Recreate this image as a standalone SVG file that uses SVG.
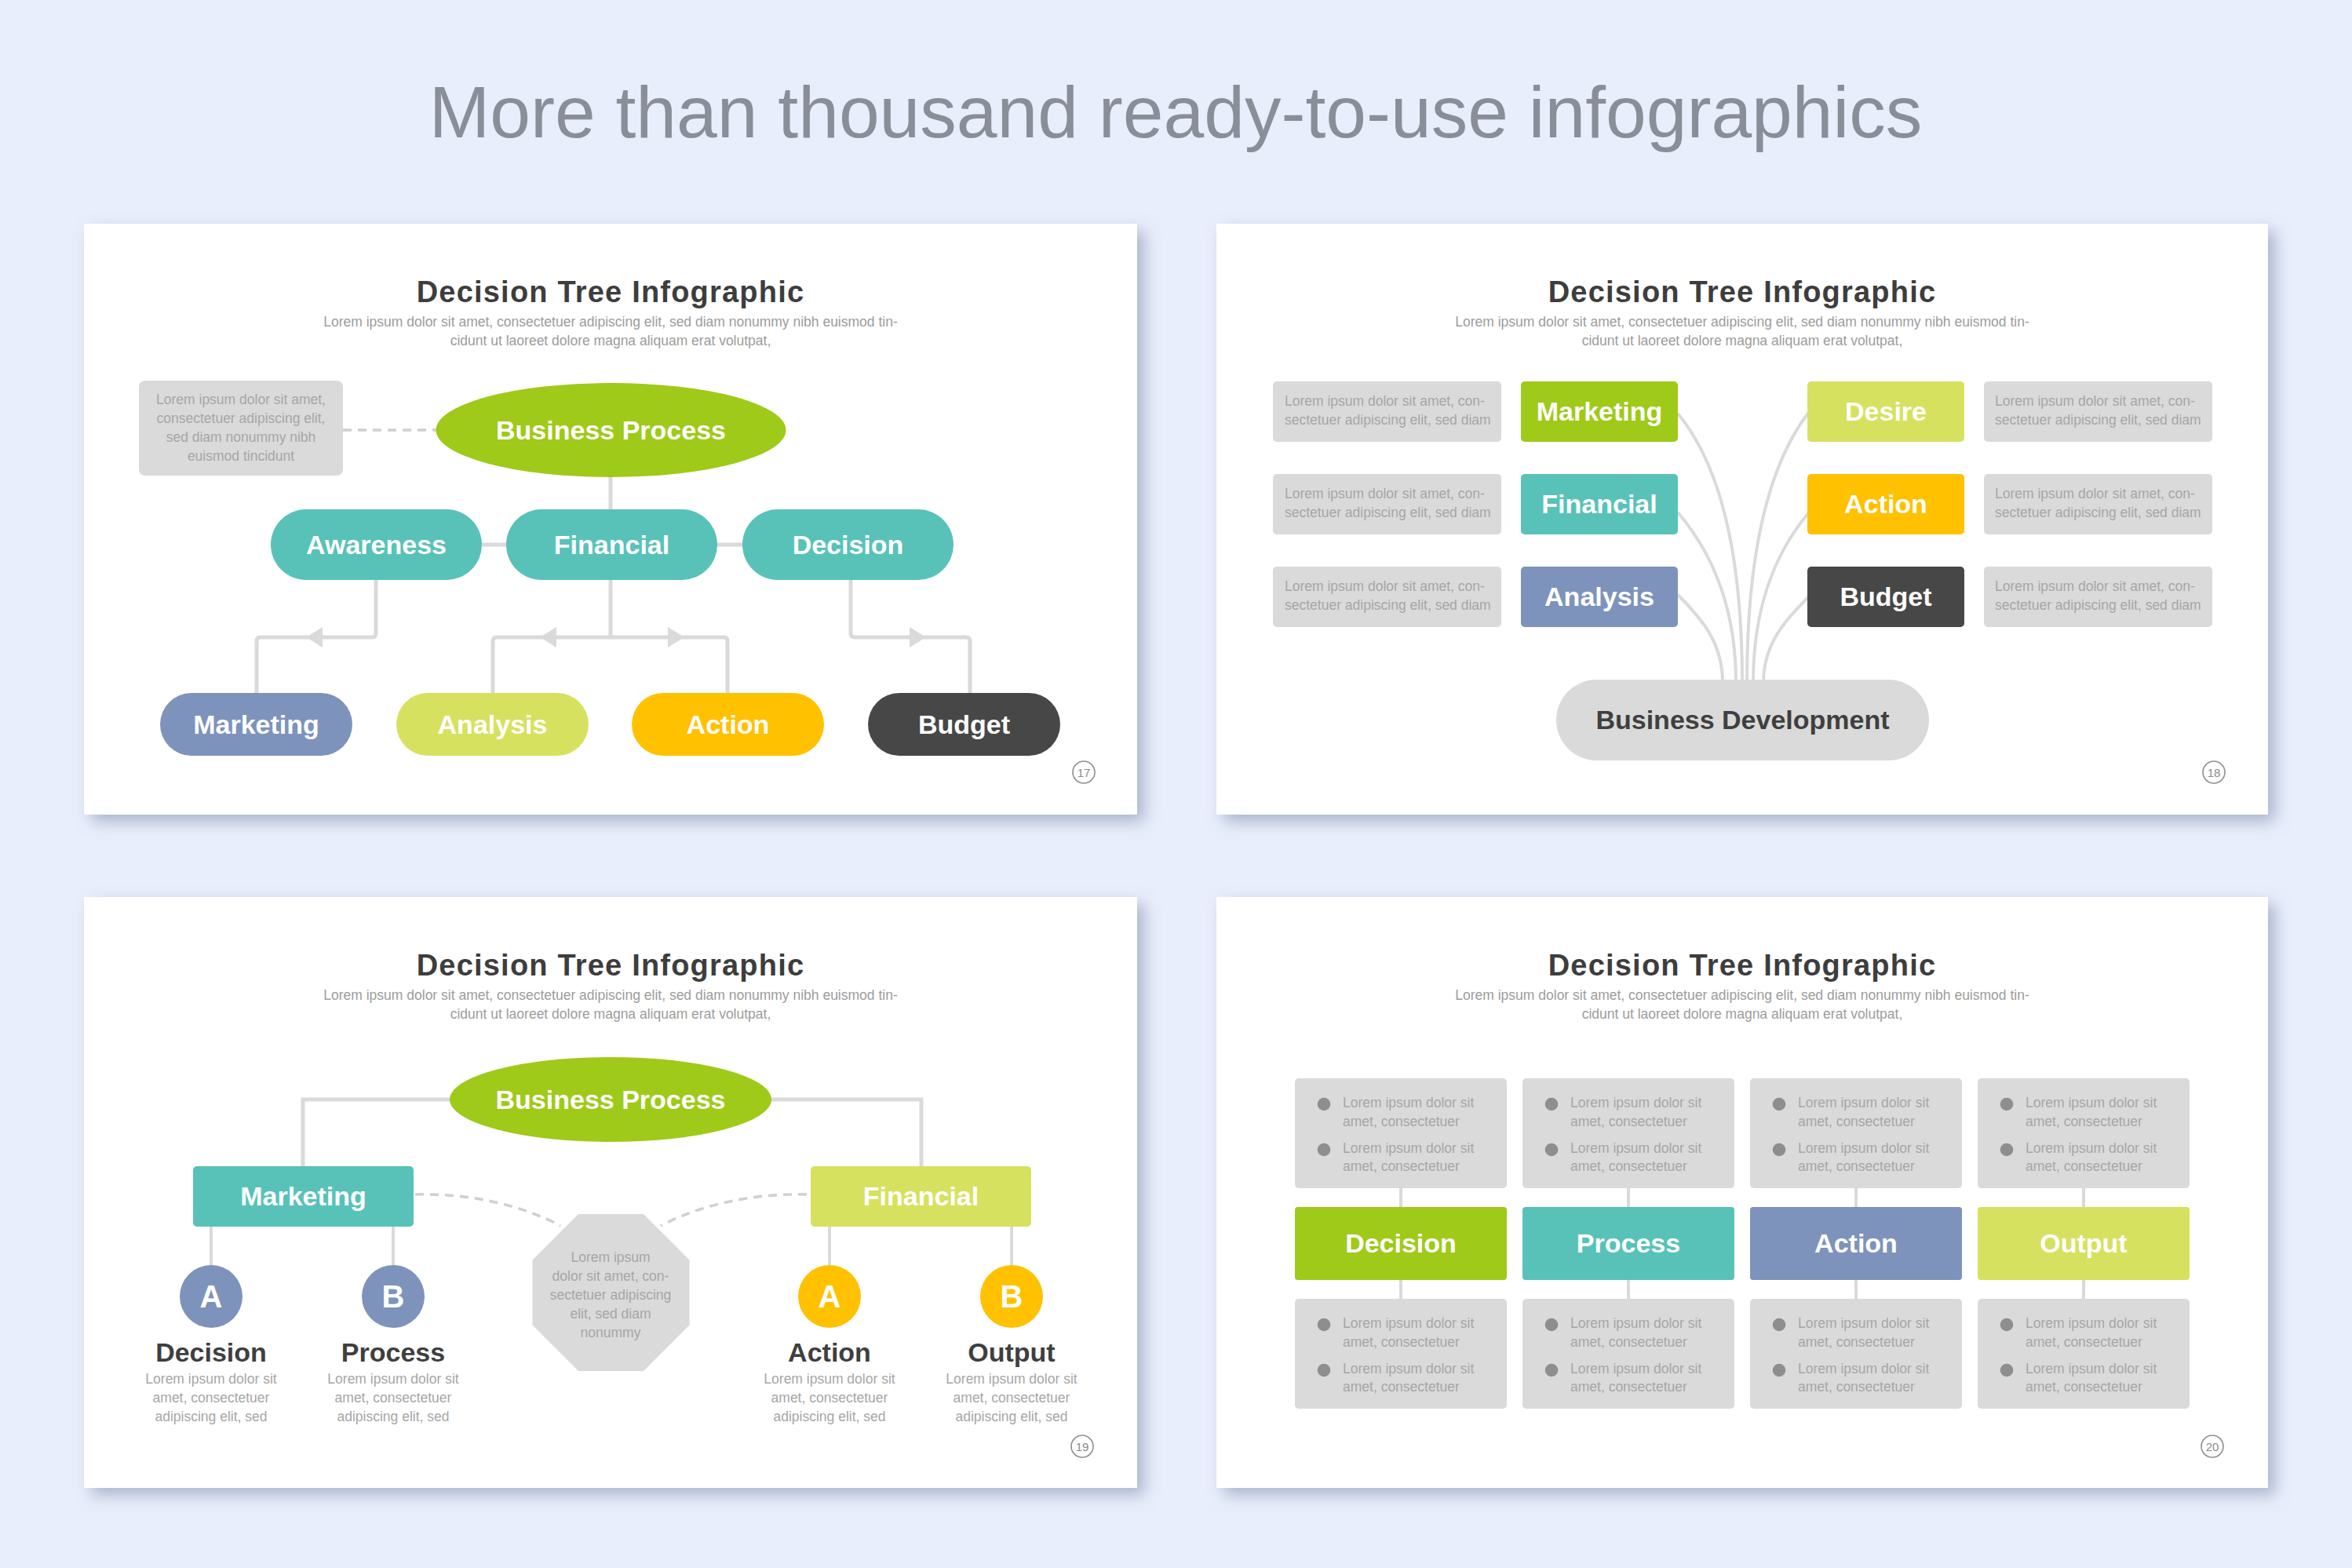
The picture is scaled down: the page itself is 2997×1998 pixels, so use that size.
<svg xmlns="http://www.w3.org/2000/svg" width="2997" height="1998" viewBox="0 0 2997 1998">
<defs>
<filter id="sh" x="-5%" y="-5%" width="115%" height="115%">
<feDropShadow dx="9" dy="9" stdDeviation="10" flood-color="#7a86a6" flood-opacity="0.55"/>
</filter>
<style>
text{font-family:"Liberation Sans",Arial,sans-serif}
.head{font-size:93px;fill:#8a8e99;text-anchor:middle}
.ttl{font-size:38px;font-weight:bold;fill:#3d3d3d;text-anchor:middle;letter-spacing:1.2px}
.sub{font-size:17.5px;fill:#9c9c9c;text-anchor:middle}
.sm{font-size:17.5px;fill:#a6a6a6}
.smc{font-size:17.5px;fill:#a6a6a6;text-anchor:middle}
.lbl{font-size:34px;font-weight:bold;fill:#ffffff;text-anchor:middle}
.dk{font-size:34px;font-weight:bold;fill:#3f3f3f;text-anchor:middle}
.let{font-size:40px;font-weight:bold;fill:#ffffff;text-anchor:middle}
.pg{font-size:15px;fill:#8a8a8a;text-anchor:middle}
.pgc{fill:none;stroke:#8f8f8f;stroke-width:1.6}
.panel{fill:#ffffff;filter:url(#sh)}
.grey{fill:#dadada}
.conn{fill:none;stroke:#dadada;stroke-width:5}
.thin{fill:none;stroke:#dadada;stroke-width:4}
.dash{fill:none;stroke:#d0d0d0;stroke-width:3.5;stroke-dasharray:11 8}
.arr{fill:#dadada}
.dot{fill:#8e8e8e}
.green{fill:#9fca1a}.teal{fill:#59c2b8}.slate{fill:#7e93bb}.lime{fill:#d7e160}.amber{fill:#ffc100}.dark{fill:#474747}
</style>
</defs>
<rect width="2997" height="1998" fill="#e8eefc"/>
<text class="head" x="1498" y="175">More than thousand ready-to-use infographics</text>

<!-- Panels -->
<g id="panels">
<rect class="panel" x="107" y="285" width="1342" height="753"/>
<rect class="panel" x="1550" y="285" width="1340" height="753"/>
<rect class="panel" x="107" y="1143" width="1342" height="753"/>
<rect class="panel" x="1550" y="1143" width="1340" height="753"/>
</g>

<!-- Titles -->
<g id="titles">
<text class="ttl" x="778" y="385">Decision Tree Infographic</text>
<text class="sub" x="778" y="416">Lorem ipsum dolor sit amet, consectetuer adipiscing elit, sed diam nonummy nibh euismod tin-</text>
<text class="sub" x="778" y="440">cidunt ut laoreet dolore magna aliquam erat volutpat,</text>
<text class="ttl" x="2220" y="385">Decision Tree Infographic</text>
<text class="sub" x="2220" y="416">Lorem ipsum dolor sit amet, consectetuer adipiscing elit, sed diam nonummy nibh euismod tin-</text>
<text class="sub" x="2220" y="440">cidunt ut laoreet dolore magna aliquam erat volutpat,</text>
<text class="ttl" x="778" y="1243">Decision Tree Infographic</text>
<text class="sub" x="778" y="1274">Lorem ipsum dolor sit amet, consectetuer adipiscing elit, sed diam nonummy nibh euismod tin-</text>
<text class="sub" x="778" y="1298">cidunt ut laoreet dolore magna aliquam erat volutpat,</text>
<text class="ttl" x="2220" y="1243">Decision Tree Infographic</text>
<text class="sub" x="2220" y="1274">Lorem ipsum dolor sit amet, consectetuer adipiscing elit, sed diam nonummy nibh euismod tin-</text>
<text class="sub" x="2220" y="1298">cidunt ut laoreet dolore magna aliquam erat volutpat,</text>
</g>

<!-- Connectors -->
<g id="connectors">
<!-- panel 1 -->
<line class="dash" x1="437" y1="548" x2="556" y2="548"/>
<line class="conn" x1="778" y1="607" x2="778" y2="650"/>
<line class="conn" x1="612" y1="694" x2="647" y2="694" stroke-width="7"/>
<line class="conn" x1="912" y1="694" x2="948" y2="694" stroke-width="7"/>
<path class="conn" d="M479,739 V807 Q479,812 474,812 H332 Q327,812 327,817 V884"/>
<polygon class="arr" points="390,812 411,799 411,825"/>
<path class="conn" d="M778,739 V812"/>
<path class="conn" d="M628,884 V817 Q628,812 633,812 H922 Q927,812 927,817 V884"/>
<polygon class="arr" points="688,812 709,799 709,825"/>
<polygon class="arr" points="872,812 851,799 851,825"/>
<path class="conn" d="M1084,739 V807 Q1084,812 1089,812 H1231 Q1236,812 1236,817 V884"/>
<polygon class="arr" points="1180,812 1159,799 1159,825"/>
<!-- panel 2 -->
<path class="thin" d="M2138,527 C2190,590 2220,700 2220,870"/>
<path class="thin" d="M2138,653 C2178,700 2212,770 2212,870"/>
<path class="thin" d="M2138,758 C2170,790 2195,820 2195,870"/>
<path class="thin" d="M2305,525 C2255,590 2226,700 2226,870"/>
<path class="thin" d="M2305,653 C2265,700 2234,770 2234,870"/>
<path class="thin" d="M2305,760 C2275,790 2247,820 2247,870"/>
<!-- panel 3 -->
<path class="conn" d="M575,1401 H386 V1487"/>
<path class="conn" d="M981,1401 H1174 V1487"/>
<line class="thin" x1="269" y1="1562" x2="269" y2="1614"/>
<line class="thin" x1="501" y1="1562" x2="501" y2="1614"/>
<line class="thin" x1="1057" y1="1562" x2="1057" y2="1614"/>
<line class="thin" x1="1289" y1="1562" x2="1289" y2="1614"/>
<path class="dash" d="M529,1522 C595,1520 665,1535 714,1562"/>
<path class="dash" d="M1028,1522 C962,1520 892,1535 842,1562"/>
<!-- panel 4 -->
<path class="thin" d="M1785,1513 V1539 M1785,1630 V1656 M2075,1513 V1539 M2075,1630 V1656 M2365,1513 V1539 M2365,1630 V1656 M2655,1513 V1539 M2655,1630 V1656"/>
</g>

<!-- Panel 1 nodes -->
<g id="p1-note">
<rect class="grey" x="177" y="485" width="260" height="121" rx="8"/>
<text class="smc" x="307" y="515">Lorem ipsum dolor sit amet,</text>
<text class="smc" x="307" y="539">consectetuer adipiscing elit,</text>
<text class="smc" x="307" y="563">sed diam nonummy nibh</text>
<text class="smc" x="307" y="587">euismod tincidunt</text>
</g>
<g id="p1-business-process">
<ellipse class="green" cx="778.5" cy="548" rx="223" ry="60"/>
<text class="lbl" x="778.5" y="560">Business Process</text>
</g>
<g id="p1-awareness"><rect class="teal" x="345" y="649" width="269" height="90" rx="45"/><text class="lbl" x="479.5" y="706">Awareness</text></g>
<g id="p1-financial"><rect class="teal" x="645" y="649" width="269" height="90" rx="45"/><text class="lbl" x="779.5" y="706">Financial</text></g>
<g id="p1-decision"><rect class="teal" x="946" y="649" width="269" height="90" rx="45"/><text class="lbl" x="1080.5" y="706">Decision</text></g>
<g id="p1-marketing"><rect class="slate" x="204" y="883" width="245" height="80" rx="40"/><text class="lbl" x="326.5" y="935">Marketing</text></g>
<g id="p1-analysis"><rect class="lime" x="505" y="883" width="245" height="80" rx="40"/><text class="lbl" x="627.5" y="935">Analysis</text></g>
<g id="p1-action"><rect class="amber" x="805" y="883" width="245" height="80" rx="40"/><text class="lbl" x="927.5" y="935">Action</text></g>
<g id="p1-budget"><rect class="dark" x="1106" y="883" width="245" height="80" rx="40"/><text class="lbl" x="1228.5" y="935">Budget</text></g>
<g id="p1-page"><circle class="pgc" cx="1381" cy="984" r="14"/><text class="pg" x="1381" y="989.5">17</text></g>

<!-- Panel 2 nodes -->
<g id="p2-note-1"><rect class="grey" x="1622" y="486" width="291" height="77" rx="5"/><text class="sm" x="1637" y="517">Lorem ipsum dolor sit amet, con-</text><text class="sm" x="1637" y="541">sectetuer adipiscing elit, sed diam</text></g>
<g id="p2-note-2"><rect class="grey" x="1622" y="604" width="291" height="77" rx="5"/><text class="sm" x="1637" y="635">Lorem ipsum dolor sit amet, con-</text><text class="sm" x="1637" y="659">sectetuer adipiscing elit, sed diam</text></g>
<g id="p2-note-3"><rect class="grey" x="1622" y="722" width="291" height="77" rx="5"/><text class="sm" x="1637" y="753">Lorem ipsum dolor sit amet, con-</text><text class="sm" x="1637" y="777">sectetuer adipiscing elit, sed diam</text></g>
<g id="p2-note-4"><rect class="grey" x="2528" y="486" width="291" height="77" rx="5"/><text class="sm" x="2542" y="517">Lorem ipsum dolor sit amet, con-</text><text class="sm" x="2542" y="541">sectetuer adipiscing elit, sed diam</text></g>
<g id="p2-note-5"><rect class="grey" x="2528" y="604" width="291" height="77" rx="5"/><text class="sm" x="2542" y="635">Lorem ipsum dolor sit amet, con-</text><text class="sm" x="2542" y="659">sectetuer adipiscing elit, sed diam</text></g>
<g id="p2-note-6"><rect class="grey" x="2528" y="722" width="291" height="77" rx="5"/><text class="sm" x="2542" y="753">Lorem ipsum dolor sit amet, con-</text><text class="sm" x="2542" y="777">sectetuer adipiscing elit, sed diam</text></g>
<g id="p2-marketing"><rect class="green" x="1938" y="486" width="200" height="77" rx="5"/><text class="lbl" x="2038" y="536">Marketing</text></g>
<g id="p2-financial"><rect class="teal" x="1938" y="604" width="200" height="77" rx="5"/><text class="lbl" x="2038" y="654">Financial</text></g>
<g id="p2-analysis"><rect class="slate" x="1938" y="722" width="200" height="77" rx="5"/><text class="lbl" x="2038" y="772">Analysis</text></g>
<g id="p2-desire"><rect class="lime" x="2303" y="486" width="200" height="77" rx="5"/><text class="lbl" x="2403" y="536">Desire</text></g>
<g id="p2-action"><rect class="amber" x="2303" y="604" width="200" height="77" rx="5"/><text class="lbl" x="2403" y="654">Action</text></g>
<g id="p2-budget"><rect class="dark" x="2303" y="722" width="200" height="77" rx="5"/><text class="lbl" x="2403" y="772">Budget</text></g>
<g id="p2-business-development"><rect class="grey" x="1983" y="866" width="475" height="103" rx="51.5"/><text class="dk" x="2220.5" y="929">Business Development</text></g>
<g id="p2-page"><circle class="pgc" cx="2821" cy="984" r="14"/><text class="pg" x="2821" y="989.5">18</text></g>

<!-- Panel 3 nodes -->
<g id="p3-business-process"><ellipse class="green" cx="778" cy="1401" rx="205" ry="54"/><text class="lbl" x="778" y="1413">Business Process</text></g>
<g id="p3-marketing"><rect class="teal" x="246" y="1486" width="281" height="77" rx="5"/><text class="lbl" x="386.5" y="1536">Marketing</text></g>
<g id="p3-financial"><rect class="lime" x="1033" y="1486" width="281" height="77" rx="5"/><text class="lbl" x="1173.5" y="1536">Financial</text></g>
<g id="p3-a1"><circle class="slate" cx="269" cy="1652" r="40"/><text class="let" x="269" y="1666">A</text>
<text class="dk" x="269" y="1735">Decision</text>
<text class="smc" x="269" y="1763">Lorem ipsum dolor sit</text><text class="smc" x="269" y="1787">amet, consectetuer</text><text class="smc" x="269" y="1811">adipiscing elit, sed</text></g>
<g id="p3-b1"><circle class="slate" cx="501" cy="1652" r="40"/><text class="let" x="501" y="1666">B</text>
<text class="dk" x="501" y="1735">Process</text>
<text class="smc" x="501" y="1763">Lorem ipsum dolor sit</text><text class="smc" x="501" y="1787">amet, consectetuer</text><text class="smc" x="501" y="1811">adipiscing elit, sed</text></g>
<g id="p3-a2"><circle class="amber" cx="1057" cy="1652" r="40"/><text class="let" x="1057" y="1666">A</text>
<text class="dk" x="1057" y="1735">Action</text>
<text class="smc" x="1057" y="1763">Lorem ipsum dolor sit</text><text class="smc" x="1057" y="1787">amet, consectetuer</text><text class="smc" x="1057" y="1811">adipiscing elit, sed</text></g>
<g id="p3-b2"><circle class="amber" cx="1289" cy="1652" r="40"/><text class="let" x="1289" y="1666">B</text>
<text class="dk" x="1289" y="1735">Output</text>
<text class="smc" x="1289" y="1763">Lorem ipsum dolor sit</text><text class="smc" x="1289" y="1787">amet, consectetuer</text><text class="smc" x="1289" y="1811">adipiscing elit, sed</text></g>
<g id="p3-octagon"><polygon class="grey" points="737,1547 820,1547 878.5,1605.6 878.5,1688.4 820,1747 737,1747 678.5,1688.4 678.5,1605.6"/>
<text class="smc" x="778" y="1608">Lorem ipsum</text><text class="smc" x="778" y="1632">dolor sit amet, con-</text><text class="smc" x="778" y="1656">sectetuer adipiscing</text><text class="smc" x="778" y="1680">elit, sed diam</text><text class="smc" x="778" y="1704">nonummy</text></g>
<g id="p3-page"><circle class="pgc" cx="1379" cy="1843" r="14"/><text class="pg" x="1379" y="1848.5">19</text></g>

<!-- Panel 4 nodes -->
<g id="p4-top-1"><rect class="grey" x="1650" y="1374" width="270" height="140" rx="5"/><circle class="dot" cx="1687" cy="1407" r="8.3"/><circle class="dot" cx="1687" cy="1465" r="8.3"/><text class="sm" x="1711" y="1411">Lorem ipsum dolor sit</text><text class="sm" x="1711" y="1434.5">amet, consectetuer</text><text class="sm" x="1711" y="1468.5">Lorem ipsum dolor sit</text><text class="sm" x="1711" y="1492">amet, consectetuer</text></g>
<g id="p4-top-2"><rect class="grey" x="1940" y="1374" width="270" height="140" rx="5"/><circle class="dot" cx="1977" cy="1407" r="8.3"/><circle class="dot" cx="1977" cy="1465" r="8.3"/><text class="sm" x="2001" y="1411">Lorem ipsum dolor sit</text><text class="sm" x="2001" y="1434.5">amet, consectetuer</text><text class="sm" x="2001" y="1468.5">Lorem ipsum dolor sit</text><text class="sm" x="2001" y="1492">amet, consectetuer</text></g>
<g id="p4-top-3"><rect class="grey" x="2230" y="1374" width="270" height="140" rx="5"/><circle class="dot" cx="2267" cy="1407" r="8.3"/><circle class="dot" cx="2267" cy="1465" r="8.3"/><text class="sm" x="2291" y="1411">Lorem ipsum dolor sit</text><text class="sm" x="2291" y="1434.5">amet, consectetuer</text><text class="sm" x="2291" y="1468.5">Lorem ipsum dolor sit</text><text class="sm" x="2291" y="1492">amet, consectetuer</text></g>
<g id="p4-top-4"><rect class="grey" x="2520" y="1374" width="270" height="140" rx="5"/><circle class="dot" cx="2557" cy="1407" r="8.3"/><circle class="dot" cx="2557" cy="1465" r="8.3"/><text class="sm" x="2581" y="1411">Lorem ipsum dolor sit</text><text class="sm" x="2581" y="1434.5">amet, consectetuer</text><text class="sm" x="2581" y="1468.5">Lorem ipsum dolor sit</text><text class="sm" x="2581" y="1492">amet, consectetuer</text></g>
<g id="p4-decision"><rect class="green" x="1650" y="1538" width="270" height="93" rx="4"/><text class="lbl" x="1785" y="1596">Decision</text></g>
<g id="p4-process"><rect class="teal" x="1940" y="1538" width="270" height="93" rx="4"/><text class="lbl" x="2075" y="1596">Process</text></g>
<g id="p4-action"><rect class="slate" x="2230" y="1538" width="270" height="93" rx="4"/><text class="lbl" x="2365" y="1596">Action</text></g>
<g id="p4-output"><rect class="lime" x="2520" y="1538" width="270" height="93" rx="4"/><text class="lbl" x="2655" y="1596">Output</text></g>
<g id="p4-bottom-1"><rect class="grey" x="1650" y="1655" width="270" height="140" rx="5"/><circle class="dot" cx="1687" cy="1688" r="8.3"/><circle class="dot" cx="1687" cy="1746" r="8.3"/><text class="sm" x="1711" y="1692">Lorem ipsum dolor sit</text><text class="sm" x="1711" y="1715.5">amet, consectetuer</text><text class="sm" x="1711" y="1749.5">Lorem ipsum dolor sit</text><text class="sm" x="1711" y="1773">amet, consectetuer</text></g>
<g id="p4-bottom-2"><rect class="grey" x="1940" y="1655" width="270" height="140" rx="5"/><circle class="dot" cx="1977" cy="1688" r="8.3"/><circle class="dot" cx="1977" cy="1746" r="8.3"/><text class="sm" x="2001" y="1692">Lorem ipsum dolor sit</text><text class="sm" x="2001" y="1715.5">amet, consectetuer</text><text class="sm" x="2001" y="1749.5">Lorem ipsum dolor sit</text><text class="sm" x="2001" y="1773">amet, consectetuer</text></g>
<g id="p4-bottom-3"><rect class="grey" x="2230" y="1655" width="270" height="140" rx="5"/><circle class="dot" cx="2267" cy="1688" r="8.3"/><circle class="dot" cx="2267" cy="1746" r="8.3"/><text class="sm" x="2291" y="1692">Lorem ipsum dolor sit</text><text class="sm" x="2291" y="1715.5">amet, consectetuer</text><text class="sm" x="2291" y="1749.5">Lorem ipsum dolor sit</text><text class="sm" x="2291" y="1773">amet, consectetuer</text></g>
<g id="p4-bottom-4"><rect class="grey" x="2520" y="1655" width="270" height="140" rx="5"/><circle class="dot" cx="2557" cy="1688" r="8.3"/><circle class="dot" cx="2557" cy="1746" r="8.3"/><text class="sm" x="2581" y="1692">Lorem ipsum dolor sit</text><text class="sm" x="2581" y="1715.5">amet, consectetuer</text><text class="sm" x="2581" y="1749.5">Lorem ipsum dolor sit</text><text class="sm" x="2581" y="1773">amet, consectetuer</text></g>
<g id="p4-page"><circle class="pgc" cx="2819" cy="1843" r="14"/><text class="pg" x="2819" y="1848.5">20</text></g>
</svg>
